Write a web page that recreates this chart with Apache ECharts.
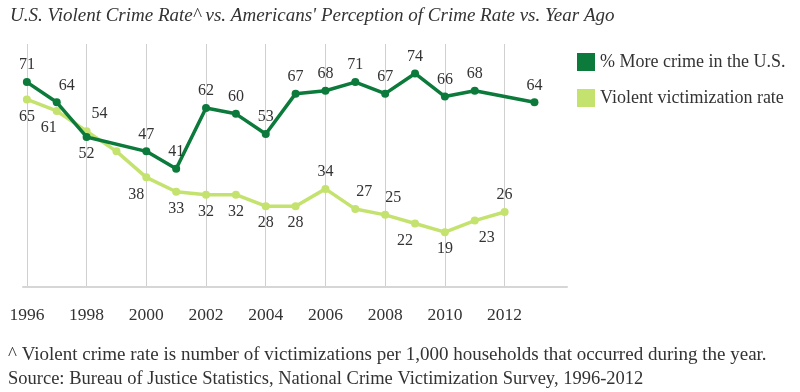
<!DOCTYPE html>
<html>
<head>
<meta charset="utf-8">
<script src="https://cdn.jsdelivr.net/npm/echarts@6/dist/echarts.min.js"></script>
<style>
html,body{margin:0;padding:0;background:#fff;}
#chart{width:800px;height:392px;}
</style>
</head>
<body>
<div id="chart"></div>
<script>
// ---- Data ----
var darkYears  = [1996,1997,1998,2000,2001,2002,2003,2004,2005,2006,2007,2008,2009,2010,2011,2013];
var darkValues = [71,64,52,47,41,62,60,53,67,68,71,67,74,66,68,64];
var lightYears  = [1996,1997,1998,1999,2000,2001,2002,2003,2004,2005,2006,2007,2008,2009,2010,2011,2012];
var lightValues = [65,61,54,47,38,33,32,32,28,28,34,27,25,22,19,23,26];
var tickYears = [1996,1998,2000,2002,2004,2006,2008,2010,2012];
var seriesNames = ['% More crime in the U.S.', 'Violent victimization rate'];
var titleText = "U.S. Violent Crime Rate^ vs. Americans' Perception of Crime Rate vs. Year Ago";
var noteText = "^ Violent crime rate is number of victimizations per 1,000 households that occurred during the year.";
var sourceText = "Source: Bureau of Justice Statistics, National Crime Victimization Survey, 1996-2012";

// ---- Label placement (styling) ----
var darkLabelStyle = { 1997: {position:'top', offset:[10,0]}, 1998: {position:'bottom'} };
var lightLabelStyle = {
  1997: {position:'bottom', offset:[-8,0]},
  1998: {position:'top', offset:[13,0]},
  1999: {show:false},
  2000: {position:'bottom', offset:[-10,0]},
  2006: {position:'top'},
  2007: {position:'top', offset:[9,0]},
  2008: {position:'top', offset:[8,0]},
  2009: {position:'bottom', offset:[-10,0]},
  2011: {position:'bottom', offset:[12,0]},
  2012: {position:'top'}
};

var FONT = 'Liberation Serif';
var DARK = '#0b7a3a';
var LIGHT = '#c4e26e';

function build(years, vals, styles) {
  return years.map(function (y, i) {
    var item = { value: [y, vals[i]] };
    if (styles[y]) item.label = styles[y];
    return item;
  });
}

var chart = echarts.init(document.getElementById('chart'), null, {renderer:'canvas'});
chart.setOption({
  animation: false,
  backgroundColor: '#fff',
  title: [
    { text: titleText, left: 8, top: 4, padding: [2,2,2,2],
      textStyle: { fontFamily: FONT, fontStyle: 'italic', fontWeight: 'normal', fontSize: 19, color: '#333' } },
    { text: noteText, left: 6, top: 344, padding: [2,2,2,2],
      textStyle: { fontFamily: FONT, fontWeight: 'normal', fontSize: 19, color: '#333' } },
    { text: sourceText, left: 6, top: 368, padding: [2,2,2,2],
      textStyle: { fontFamily: FONT, fontWeight: 'normal', fontSize: 18.5, color: '#333' } }
  ],
  legend: {
    orient: 'vertical', left: 577, top: 53, padding: 0,
    itemWidth: 18, itemHeight: 18, itemGap: 18, icon: 'rect',
    textStyle: { fontFamily: FONT, fontSize: 18, color: '#333' },
    data: seriesNames
  },
  grid: { left: 23, right: 233, top: 44, bottom: 105, containLabel: false },
  xAxis: {
    type: 'value', min: 1995.87, max: 2014.09,
    axisLine: { show: true, lineStyle: { color: '#d6d6d6', width: 2 } },
    axisTick: { show: false, customValues: tickYears },
    axisLabel: { customValues: tickYears, fontFamily: FONT, fontSize: 17.5, color: '#333', margin: 19,
      formatter: function (v) { return String(Math.round(v)); } },
    splitLine: { show: true, lineStyle: { color: '#d0d0d0', width: 1 } }
  },
  yAxis: {
    type: 'value', min: 0, max: 84.2, show: false,
    splitLine: { show: false }
  },
  series: [
    { name: seriesNames[0], type: 'line', data: build(darkYears, darkValues, darkLabelStyle),
      color: DARK, symbol: 'circle', symbolSize: 8,
      lineStyle: { width: 3.5, color: DARK }, itemStyle: { color: DARK },
      label: { show: true, position: 'top', distance: 5, fontFamily: FONT, fontSize: 16, color: '#333' },
      z: 3 },
    { name: seriesNames[1], type: 'line', data: build(lightYears, lightValues, lightLabelStyle),
      color: LIGHT, symbol: 'circle', symbolSize: 8,
      lineStyle: { width: 3.5, color: LIGHT }, itemStyle: { color: LIGHT },
      label: { show: true, position: 'bottom', distance: 5, fontFamily: FONT, fontSize: 16, color: '#333' },
      z: 2 }
  ]
});
</script>
</body>
</html>
